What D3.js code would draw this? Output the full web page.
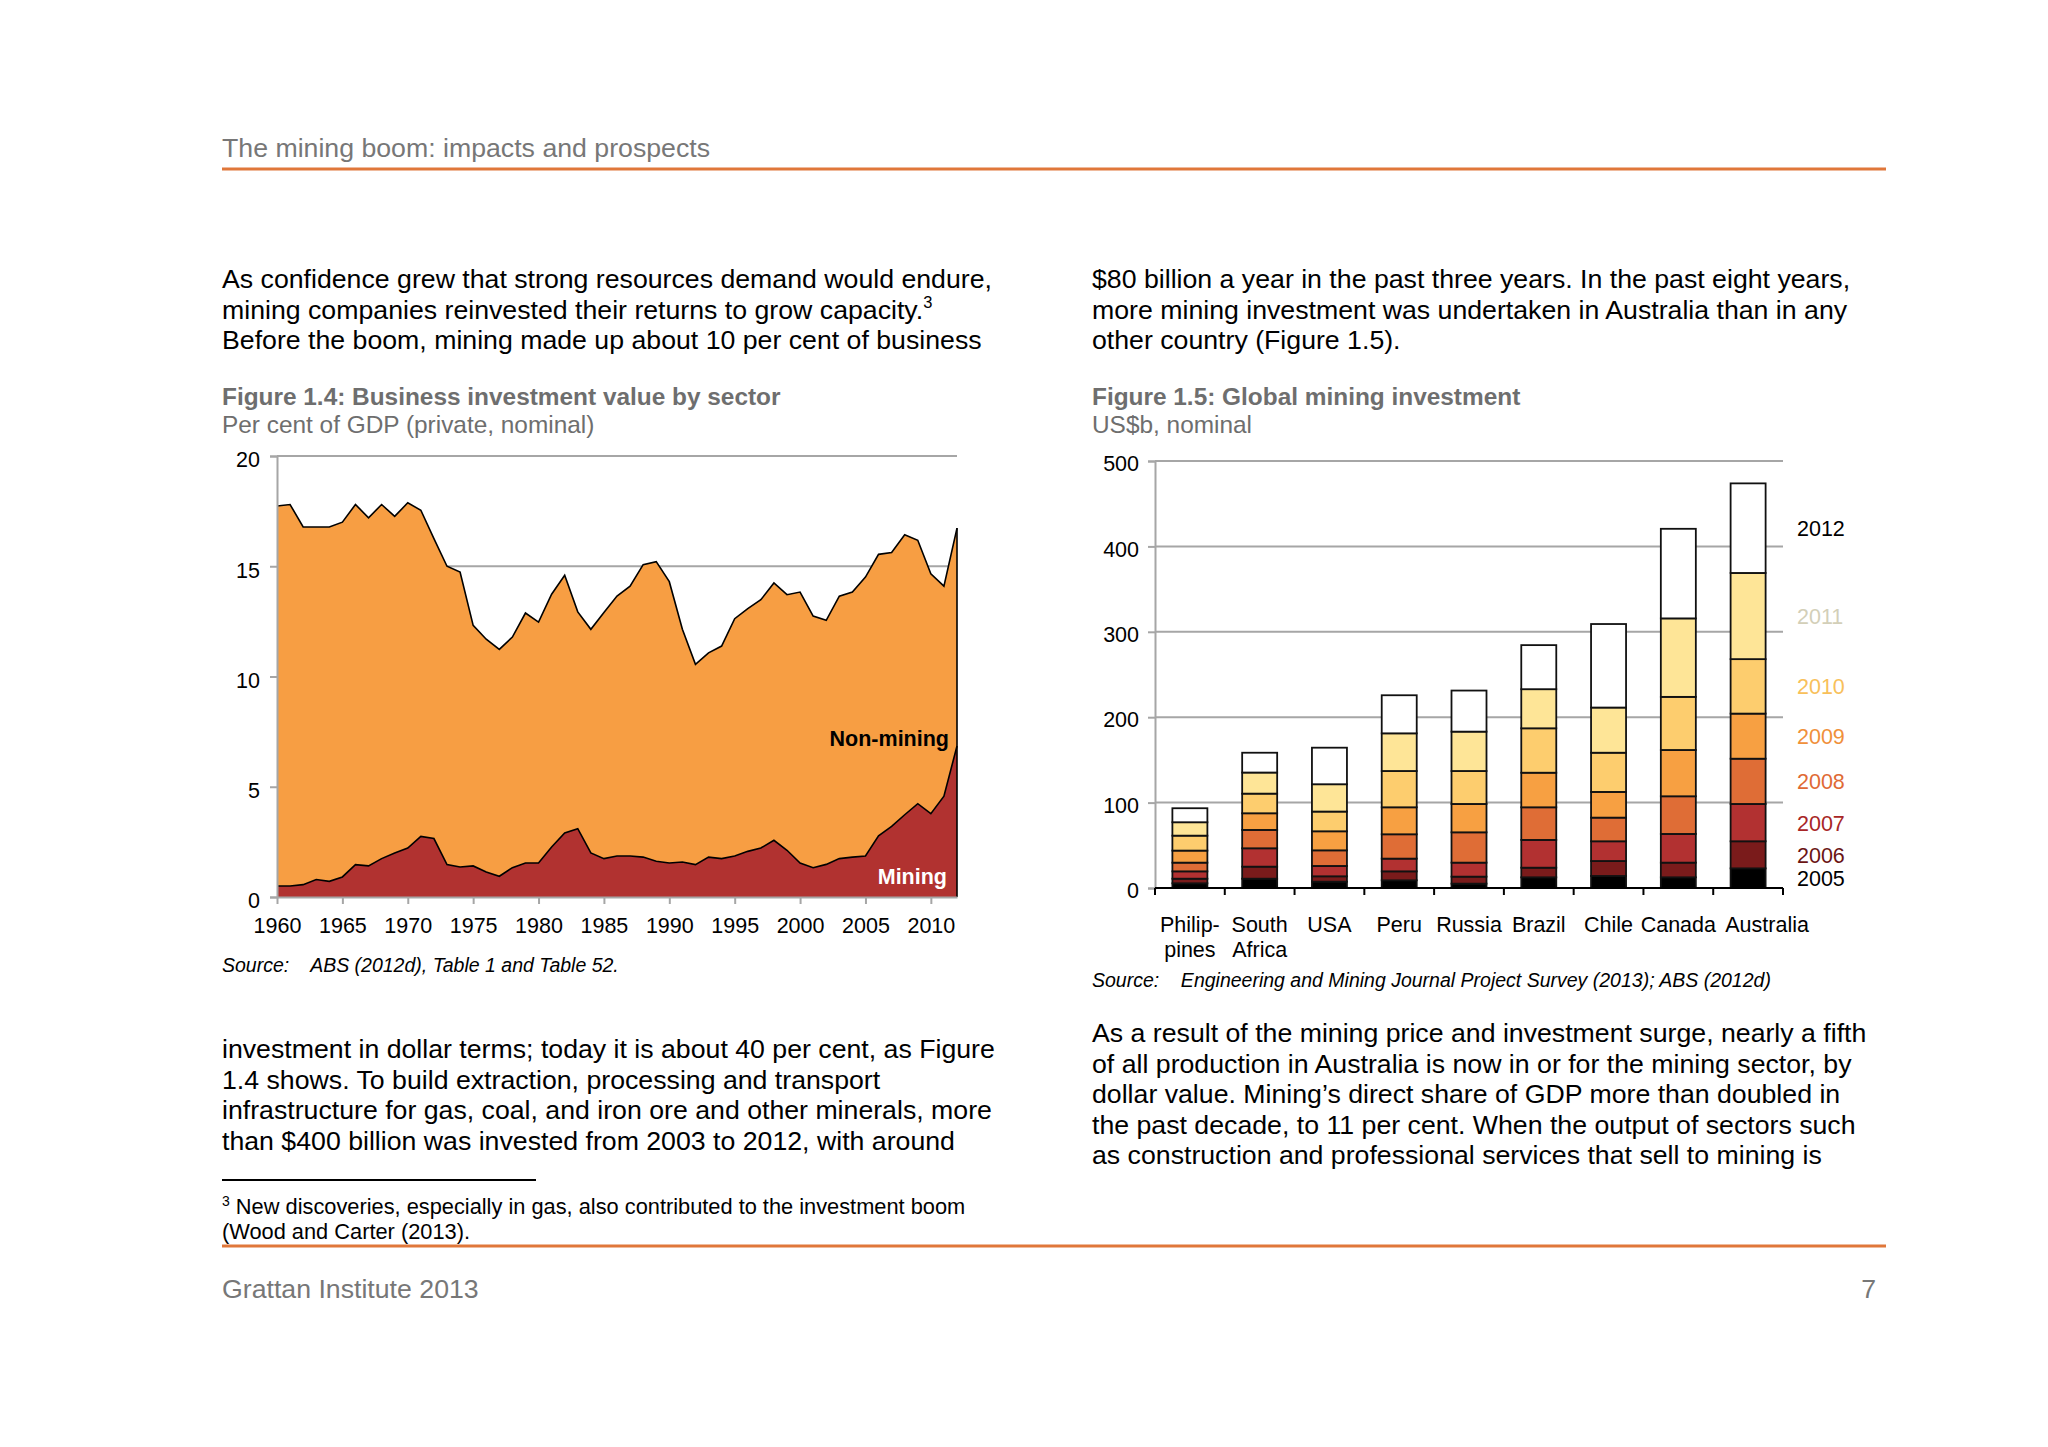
<!DOCTYPE html>
<html>
<head>
<meta charset="utf-8">
<script src="https://cdn.jsdelivr.net/npm/d3@7"></script>
<style>
  body { margin: 0; background: #ffffff; }
  svg { display: block; font-family: "Liberation Sans", Arial, sans-serif; }
</style>
</head>
<body>
<svg id="page" width="2048" height="1447"></svg>
<script>
// ---- Figure 1.4 data: per cent of GDP, 1960-2012
const years = d3.range(1960, 2013)
const mining = [0.5,0.5,0.56,0.79,0.71,0.91,1.47,1.41,1.74,2.0,
  2.22,2.75,2.65,1.47,1.36,1.41,1.13,0.94,1.33,1.54,
  1.54,2.27,2.9,3.1,2.0,1.74,1.86,1.86,1.81,1.62,
  1.54,1.59,1.47,1.81,1.74,1.86,2.07,2.22,2.57,2.12,
  1.54,1.33,1.48,1.74,1.81,1.86,2.77,3.2,3.73,4.23,
  3.78,4.57,6.85]
const nonMining = [17.23,17.3,16.22,15.99,16.07,16.09,16.33,15.79,16.06,15.26,
  15.66,14.79,13.6,13.53,13.38,10.91,10.56,10.29,10.46,11.34,
  10.93,11.46,11.69,9.83,10.14,11.16,11.79,12.24,13.26,13.59,
  12.76,10.55,9.08,9.26,9.64,10.76,11.01,11.26,11.67,11.59,
  12.29,11.41,11.07,11.9,12.02,12.65,12.77,12.42,12.7,11.95,
  10.88,9.53,9.88]
const yTicksLeft = [0, 5, 10, 15, 20]
const xTicksLeft = [1960,1965,1970,1975,1980,1985,1990,1995,2000,2005,2010]

// ---- Figure 1.5 data: US$b nominal, by year
const countries = [["Philip-","pines"],["South","Africa"],["USA"],["Peru"],["Russia"],["Brazil"],["Chile"],["Canada"],["Australia"]]
const investYears = ["2005","2006","2007","2008","2009","2010","2011","2012"]
const inv2005 = [5.5, 10.9, 7.4, 9.0, 5.1, 12.5, 14.1, 12.5, 23.0]
const inv2006 = [5.4, 14.1, 6.3, 10.5, 8.2, 11.3, 17.5, 17.2, 31.7]
const inv2007 = [8.6, 21.5, 12.1, 14.9, 16.4, 32.5, 23.1, 33.6, 43.7]
const inv2008 = [10.2, 21.5, 18.3, 28.5, 35.5, 38.2, 27.7, 44.1, 53.0]
const inv2009 = [14.1, 19.5, 22.3, 31.6, 33.2, 40.5, 30.1, 54.2, 52.8]
const inv2010 = [17.5, 23.0, 23.1, 42.5, 38.6, 52.0, 45.9, 62.2, 63.8]
const inv2011 = [15.7, 24.7, 32.0, 44.1, 46.1, 45.8, 52.9, 91.9, 100.9]
const inv2012 = [16.4, 23.2, 42.8, 44.6, 48.1, 51.6, 97.8, 104.9, 104.9]
const yTicksRight = [0, 100, 200, 300, 400, 500]
const segColors = ["#000000","#7a1b1b","#b23131","#df6d36","#f7a042","#fdcd6e","#fee597","#ffffff"]
const labelColors = ["#000000","#6b1414","#a82626","#e06a35","#f0903a","#f8c05a","#d3cfb8","#000000"]

const svg = d3.select("#page")
const grey = "#777777"
const orange = "#e0773a"
const bodyFont = 26.7

// ---- page header / footer
svg.append("text").attr("x", 222).attr("y", 157).attr("font-size", 26.7).attr("fill", grey)
  .text("The mining boom: impacts and prospects")
svg.append("line").attr("x1", 222).attr("x2", 1886).attr("y1", 169).attr("y2", 169)
  .attr("stroke", orange).attr("stroke-width", 3)
svg.append("line").attr("x1", 222).attr("x2", 1886).attr("y1", 1246).attr("y2", 1246)
  .attr("stroke", orange).attr("stroke-width", 3)
svg.append("text").attr("x", 222).attr("y", 1298).attr("font-size", 26.7).attr("fill", grey)
  .text("Grattan Institute 2013")
svg.append("text").attr("x", 1876).attr("y", 1298).attr("font-size", 26.7).attr("fill", grey)
  .attr("text-anchor", "end").text("7")

// ---- body paragraphs
function para(x, y0, lines) {
  lines.forEach((l, i) => {
    svg.append("text").attr("x", x).attr("y", y0 + i * 30.5)
      .attr("font-size", bodyFont).attr("fill", "#000").text(l)
  })
}
const p1 = svg.append("g")
p1.append("text").attr("x", 222).attr("y", 288).attr("font-size", bodyFont)
  .text("As confidence grew that strong resources demand would endure,")
const l2 = p1.append("text").attr("x", 222).attr("y", 318.5).attr("font-size", bodyFont)
l2.append("tspan").text("mining companies reinvested their returns to grow capacity.")
l2.append("tspan").attr("font-size", 16.5).attr("dy", -11).text("3")
p1.append("text").attr("x", 222).attr("y", 349).attr("font-size", bodyFont)
  .text("Before the boom, mining made up about 10 per cent of business")

para(1092, 288, [
  "$80 billion a year in the past three years. In the past eight years,",
  "more mining investment was undertaken in Australia than in any",
  "other country (Figure 1.5)."
])
para(222, 1058, [
  "investment in dollar terms; today it is about 40 per cent, as Figure",
  "1.4 shows. To build extraction, processing and transport",
  "infrastructure for gas, coal, and iron ore and other minerals, more",
  "than $400 billion was invested from 2003 to 2012, with around"
])
para(1092, 1042, [
  "As a result of the mining price and investment surge, nearly a fifth",
  "of all production in Australia is now in or for the mining sector, by",
  "dollar value. Mining\u2019s direct share of GDP more than doubled in",
  "the past decade, to 11 per cent. When the output of sectors such",
  "as construction and professional services that sell to mining is"
])

// footnote
svg.append("line").attr("x1", 222).attr("x2", 536).attr("y1", 1180).attr("y2", 1180)
  .attr("stroke", "#000").attr("stroke-width", 2)
const fn = svg.append("text").attr("x", 222).attr("y", 1214).attr("font-size", 21.8)
fn.append("tspan").attr("font-size", 14).attr("dy", -8).text("3")
fn.append("tspan").attr("dy", 8).text(" New discoveries, especially in gas, also contributed to the investment boom")
svg.append("text").attr("x", 222).attr("y", 1239).attr("font-size", 21.8)
  .text("(Wood and Carter (2013).")

// ---- figure titles
function figTitle(x, title, sub) {
  svg.append("text").attr("x", x).attr("y", 404.5).attr("font-size", 24.4)
    .attr("font-weight", "bold").attr("fill", "#6e6e6e").text(title)
  svg.append("text").attr("x", x).attr("y", 433).attr("font-size", 24.4)
    .attr("fill", "#6e6e6e").text(sub)
}
figTitle(222, "Figure 1.4: Business investment value by sector", "Per cent of GDP (private, nominal)")
figTitle(1092, "Figure 1.5: Global mining investment", "US$b, nominal")

// ---- Figure 1.4 : stacked area
const xL = d3.scaleLinear().domain([1960, 2012]).range([277, 957])
const yL = d3.scaleLinear().domain([0, 20]).range([897, 456])
const left = svg.append("g")

left.selectAll("line.grid").data(yTicksLeft.slice(1)).join("line")
  .attr("x1", xL(1960)).attr("x2", xL(2012))
  .attr("y1", d => yL(d)).attr("y2", d => yL(d))
  .attr("stroke", "#a6a6a6").attr("stroke-width", 2)

const rows = years.map((yr, i) => ({ year: yr, mining: mining[i], nonMining: nonMining[i] }))
const stacked = d3.stack().keys(["mining", "nonMining"])(rows)
const area = d3.area().x(d => xL(d.data.year)).y0(d => yL(d[0])).y1(d => yL(d[1]))
const topLine = d3.line().x(d => xL(d.data.year)).y(d => yL(d[1]))
const areaColors = { mining: "#b13230", nonMining: "#f79e43" }

left.selectAll("path.area").data(stacked).join("path")
  .attr("d", area).attr("fill", d => areaColors[d.key])
left.selectAll("path.top").data(stacked).join("path")
  .attr("d", topLine).attr("fill", "none").attr("stroke", "#000").attr("stroke-width", 1.6)
left.append("line").attr("x1", xL(2012)).attr("x2", xL(2012))
  .attr("y1", yL(0)).attr("y2", yL(mining[52] + nonMining[52]))
  .attr("stroke", "#000").attr("stroke-width", 1.6)

left.append("g").attr("transform", `translate(${xL(1960)},0)`)
  .call(d3.axisLeft(yL).tickValues(yTicksLeft).tickSize(7).tickPadding(10))
  .call(g => {
    g.select(".domain").attr("stroke", "#a6a6a6").attr("stroke-width", 2)
    g.selectAll(".tick line").attr("stroke", "#a6a6a6").attr("stroke-width", 2)
    g.selectAll("text").attr("font-size", 21.5).attr("fill", "#000").attr("font-family", "Liberation Sans")
      .attr("dy", "0.5em")
  })
left.append("g").attr("transform", `translate(0,${yL(0)})`)
  .call(d3.axisBottom(xL).tickValues(xTicksLeft).tickFormat(d3.format("d")).tickSize(7).tickPadding(14).tickSizeOuter(0))
  .call(g => {
    g.select(".domain").attr("stroke", "#a6a6a6").attr("stroke-width", 2)
    g.selectAll(".tick line").attr("stroke", "#a6a6a6").attr("stroke-width", 2)
    g.selectAll("text").attr("font-size", 21.5).attr("fill", "#000").attr("font-family", "Liberation Sans")
  })

left.append("text").attr("x", 949).attr("y", 746).attr("text-anchor", "end")
  .attr("font-size", 21.5).attr("font-weight", "bold").attr("fill", "#000").text("Non-mining")
left.append("text").attr("x", 947).attr("y", 884).attr("text-anchor", "end")
  .attr("font-size", 21.5).attr("font-weight", "bold").attr("fill", "#fff").text("Mining")

svg.append("text").attr("x", 222).attr("y", 972).attr("font-size", 19.5)
  .attr("font-style", "italic").attr("xml:space", "preserve")
  .text("Source:    ABS (2012d), Table 1 and Table 52.")

// ---- Figure 1.5 : stacked bars
const seriesVals = [inv2005, inv2006, inv2007, inv2008, inv2009, inv2010, inv2011, inv2012]
const barRows = countries.map((c, i) => {
  const r = { name: c.join(" ") }
  investYears.forEach((yr, k) => { r[yr] = seriesVals[k][i] })
  return r
})
const xR = d3.scaleBand().domain(barRows.map(d => d.name)).range([1155, 1783]).paddingInner(0).paddingOuter(0)
const yR = d3.scaleLinear().domain([0, 500]).range([888, 461])
const right = svg.append("g")

right.selectAll("line.grid").data(yTicksRight.slice(1)).join("line")
  .attr("x1", 1155).attr("x2", 1783)
  .attr("y1", d => yR(d)).attr("y2", d => yR(d))
  .attr("stroke", "#a6a6a6").attr("stroke-width", 2)

const barStack = d3.stack().keys(investYears)(barRows)
const barW = 35
right.selectAll("g.layer").data(barStack).join("g")
  .attr("fill", (d, i) => segColors[i])
  .selectAll("rect").data(d => d).join("rect")
  .attr("x", d => xR(d.data.name) + xR.bandwidth() / 2 - barW / 2)
  .attr("width", barW)
  .attr("y", d => yR(d[1]))
  .attr("height", d => yR(d[0]) - yR(d[1]))
  .attr("stroke", "#111").attr("stroke-width", 1.8)

right.append("g").attr("transform", "translate(1155,0)")
  .call(d3.axisLeft(yR).tickValues(yTicksRight).tickSize(7).tickPadding(9))
  .call(g => {
    g.select(".domain").attr("stroke", "#a6a6a6").attr("stroke-width", 2)
    g.selectAll(".tick line").attr("stroke", "#a6a6a6").attr("stroke-width", 2)
    g.selectAll("text").attr("font-size", 21.5).attr("fill", "#000").attr("font-family", "Liberation Sans")
      .attr("dy", "0.45em")
  })

// x axis: baseline and ticks at band boundaries
const bounds = barRows.map(d => xR(d.name)).concat([xR.range()[1]])
right.append("line").attr("x1", 1155).attr("x2", 1783).attr("y1", yR(0)).attr("y2", yR(0))
  .attr("stroke", "#000").attr("stroke-width", 2)
right.selectAll("line.xt").data(bounds).join("line")
  .attr("x1", d => d).attr("x2", d => d).attr("y1", yR(0)).attr("y2", yR(0) + 7)
  .attr("stroke", "#000").attr("stroke-width", 2)

// the last label sits a little right of its band, as in the original
const labelShift = countries.map((c, i) => i === countries.length - 1 ? 19 : 0)
right.selectAll("text.cat").data(countries).join("text")
  .attr("x", (d, i) => xR(barRows[i].name) + xR.bandwidth() / 2 + labelShift[i])
  .attr("y", 932).attr("text-anchor", "middle").attr("font-size", 21.5)
  .each(function (d) {
    d.forEach((part, k) => {
      d3.select(this).append("tspan")
        .attr("x", d3.select(this).attr("x")).attr("dy", k === 0 ? 0 : 25).text(part)
    })
  })

// year labels beside the Australia bar, at its segment mid-points
const aus = barStack.map(layer => layer[layer.length - 1])
right.selectAll("text.yr").data(investYears).join("text")
  .attr("x", 1797).attr("y", (d, i) => yR((aus[i][0] + aus[i][1]) / 2) + 8)
  .attr("font-size", 21.5).attr("fill", (d, i) => labelColors[i]).text(d => d)

svg.append("text").attr("x", 1092).attr("y", 987).attr("font-size", 19.5)
  .attr("font-style", "italic").attr("xml:space", "preserve")
  .text("Source:    Engineering and Mining Journal Project Survey (2013); ABS (2012d)")
</script>
</body>
</html>
